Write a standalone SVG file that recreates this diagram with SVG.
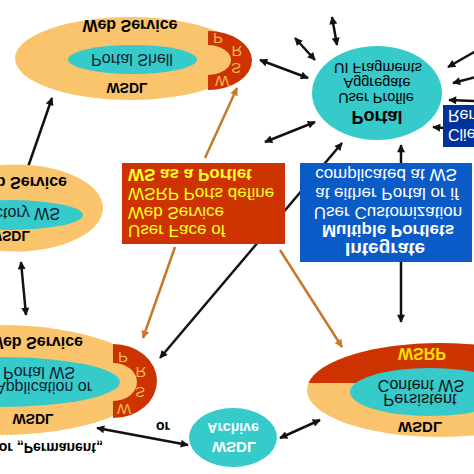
<svg xmlns="http://www.w3.org/2000/svg" width="474" height="474" viewBox="0 0 474 474">
<style>
.t{font-family:"Liberation Sans",Arial,sans-serif;dominant-baseline:central}
.b{font-weight:bold}
.mid{text-anchor:middle}
.end{text-anchor:end}
.org{fill:#FAC46C}
.teal{fill:#36CACA}
.red{fill:#CC3300}
.ln{stroke:#111;stroke-width:2.5;fill:none;marker-end:url(#ah)}
.dl{marker-start:url(#ah)}
.oln{stroke:#C8782A;stroke-width:2.5;fill:none;marker-end:url(#oah)}
.let{fill:#F5B84E;font-size:15px}
</style>
<defs>
<marker id="ah" viewBox="0 0 10 10" refX="9" refY="5" markerWidth="10" markerHeight="8" markerUnits="userSpaceOnUse" orient="auto-start-reverse"><path d="M0,0 L10,5 L0,10 z" fill="#111"/></marker>
<marker id="oah" viewBox="0 0 10 10" refX="9" refY="5" markerWidth="10" markerHeight="8" markerUnits="userSpaceOnUse" orient="auto-start-reverse"><path d="M0,0 L10,5 L0,10 z" fill="#C8782A"/></marker>
</defs>
<rect width="474" height="474" fill="#fff"/>
<g id="connectors">
<line class="ln" x1="28" y1="167" x2="52" y2="98"/>
<line class="ln dl" x1="21" y1="262" x2="26" y2="315"/>
<line class="ln dl" x1="160" y1="358" x2="342" y2="143"/>
<line class="ln dl" x1="332" y1="17" x2="337" y2="45"/>
<line class="ln dl" x1="295" y1="38" x2="315" y2="60"/>
<line class="ln dl" x1="260" y1="60" x2="308" y2="78"/>
<line class="ln dl" x1="265" y1="142" x2="315" y2="122"/>
<line class="ln dl" x1="401" y1="145" x2="401" y2="322"/>
<line class="ln" x1="476" y1="51" x2="448" y2="67"/>
<line class="ln" x1="476" y1="77" x2="453" y2="83"/>
<line class="ln" x1="476" y1="101" x2="449" y2="100"/>
<line class="ln" x1="444" y1="128" x2="433" y2="127"/>
<line class="ln dl" x1="97" y1="428" x2="188" y2="445"/>
<line class="ln dl" x1="280" y1="438" x2="320" y2="420"/>
<line class="oln" x1="205" y1="158" x2="237" y2="88"/>
<line class="oln" x1="175" y1="247" x2="143" y2="338"/>
<line class="oln" x1="280" y1="250" x2="342" y2="347"/>
</g>
<g id="portal-shell-ws">
<ellipse class="org" cx="130" cy="58.5" rx="115" ry="41.5"/>
<ellipse class="teal" cx="132.5" cy="59.5" rx="64.5" ry="14.5"/>
<path class="red" d="M208,31 A44,29.5 0 0 1 208,90 L208,75 A23,15 0 0 0 208,45 Z"/>
<text class="t let mid" x="218" y="38" transform="matrix(1 0 0 -1 0 76)">P</text>
<text class="t let mid" x="237" y="51" transform="matrix(1 0 0 -1 0 102)">R</text>
<text class="t let mid" x="236" y="68" transform="matrix(1 0 0 -1 0 136)">S</text>
<text class="t let mid" x="222" y="81" transform="matrix(1 0 0 -1 0 162)">W</text>
<text class="t b mid" x="130" y="25" font-size="16" transform="matrix(1 0 0 -1 0 50)">Web Service</text>
<text class="t mid" x="132" y="59" font-size="16" fill="#123" transform="matrix(1 0 0 -1 0 118)">Portal Shell</text>
<text class="t b mid" x="127" y="88" font-size="14" transform="matrix(1 0 0 -1 0 176)">WSDL</text>
</g>
<g id="directory-ws">
<ellipse class="org" cx="15" cy="208" rx="88" ry="43.5"/>
<ellipse class="teal" cx="10" cy="215" rx="73" ry="15"/>
<text class="t b end" x="67" y="182" font-size="16" transform="matrix(1 0 0 -1 0 364)">Web Service</text>
<text class="t end" x="60" y="213" font-size="16" fill="#123" transform="matrix(1 0 0 -1 0 426)">Directory WS</text>
<text class="t b end" x="30" y="236" font-size="14" transform="matrix(1 0 0 -1 0 472)">WSDL</text>
</g>
<g id="application-portal-ws">
<ellipse class="org" cx="0" cy="380" rx="150" ry="55"/>
<ellipse class="teal" cx="0" cy="382" rx="120" ry="25"/>
<path class="red" d="M113,344 A44,37 0 0 1 113,418 L113,401 A24,19 0 0 0 113,363 Z"/>
<text class="t let mid" x="123" y="357" transform="matrix(1 0 0 -1 0 714)">P</text>
<text class="t let mid" x="141" y="372" transform="matrix(1 0 0 -1 0 744)">R</text>
<text class="t let mid" x="140" y="392" transform="matrix(1 0 0 -1 0 784)">S</text>
<text class="t let mid" x="124" y="409" transform="matrix(1 0 0 -1 0 818)">W</text>
<text class="t b end" x="83" y="342" font-size="16" transform="matrix(1 0 0 -1 0 684)">Web Service</text>
<text class="t end" x="75" y="372" font-size="16" fill="#123" transform="matrix(1 0 0 -1 0 744)">Portal WS</text>
<text class="t end" x="92" y="387" font-size="16" fill="#123" transform="matrix(1 0 0 -1 0 774)">Application or</text>
<text class="t b mid" x="33" y="419" font-size="14" transform="matrix(1 0 0 -1 0 838)">WSDL</text>
</g>
<g id="permanent-label">
<text class="t b end" x="103" y="448" font-size="14" transform="matrix(1 0 0 -1 0 896)">or „Permanent„</text>
</g>
<g id="portal">
<ellipse class="teal" cx="377" cy="93" rx="65" ry="47"/>
<text class="t mid" x="378" y="68" font-size="14.5" transform="matrix(1 0 0 -1 0 136)">UI Fragments</text>
<text class="t mid" x="377" y="83" font-size="14.5" transform="matrix(1 0 0 -1 0 166)">Aggregate</text>
<text class="t mid" x="376" y="98" font-size="14.5" transform="matrix(1 0 0 -1 0 196)">User Profile</text>
<text class="t b mid" x="377" y="117" font-size="18" transform="matrix(1 0 0 -1 0 234)">Portal</text>
</g>
<g id="client-rendering">
<rect x="443" y="105" width="40" height="42" fill="#003399"/>
<text class="t" x="448" y="115" font-size="16" fill="#fff" transform="matrix(1 0 0 -1 0 230)">Ren</text>
<text class="t" x="448" y="134" font-size="16" fill="#fff" transform="matrix(1 0 0 -1 0 268)">Clie</text>
</g>
<g id="ws-as-portlet">
<rect class="red" x="122" y="163" width="163" height="81"/>
<g fill="#FFFF22" font-size="17">
<text class="t b" x="128" y="174" transform="matrix(1 0 0 -1 0 348)">WS as a Portlet</text>
<text class="t" x="128" y="193" transform="matrix(1 0 0 -1 0 386)">WSRP Ports define</text>
<text class="t" x="128" y="212" transform="matrix(1 0 0 -1 0 424)">Web Service</text>
<text class="t" x="128" y="230" transform="matrix(1 0 0 -1 0 460)">User Face of</text>
</g>
</g>
<g id="integrate">
<rect x="300" y="163" width="172" height="99" fill="#0A5AC8"/>
<g fill="#fff" font-size="17">
<text class="t mid" x="386" y="174" transform="matrix(1 0 0 -1 0 348)">complicated at WS</text>
<text class="t mid" x="387" y="193" transform="matrix(1 0 0 -1 0 386)">at either Portal or if</text>
<text class="t mid" x="388" y="212" transform="matrix(1 0 0 -1 0 424)">User Customization</text>
<text class="t b mid" x="388" y="230" transform="matrix(1 0 0 -1 0 460)">Multiple Portlets</text>
<text class="t b mid" x="385" y="249" font-size="19" transform="matrix(1 0 0 -1 0 498)">Integrate</text>
</g>
</g>
<g id="archive-wsdl">
<ellipse class="teal" cx="233" cy="437.5" rx="44" ry="29.5"/>
<text class="t b mid" x="233" y="428" font-size="14" fill="#fff" transform="matrix(1 0 0 -1 0 856)">Archive</text>
<text class="t b mid" x="234" y="447" font-size="15" fill="#fff" transform="matrix(1 0 0 -1 0 894)">WSDL</text>
</g>
<g id="persistent-content-ws">
<ellipse class="org" cx="440" cy="390" rx="133" ry="47"/>
<path class="red" d="M308.5,383 A133,47 0 0 1 571.5,383 Z"/>
<ellipse class="teal" cx="430" cy="392" rx="80" ry="24"/>
<text class="t b mid" x="422" y="353" font-size="16" fill="#FFE000" transform="matrix(1 0 0 -1 0 706)">WSRP</text>
<text class="t mid" x="421" y="385" font-size="16" fill="#111" transform="matrix(1 0 0 -1 0 770)">Content WS</text>
<text class="t mid" x="420" y="400" font-size="16.5" fill="#111" transform="matrix(1 0 0 -1 0 800)">Persistent</text>
<text class="t b mid" x="420" y="427" font-size="15" transform="matrix(1 0 0 -1 0 854)">WSDL</text>
</g>
<g id="or-label">
<text class="t b mid" x="163" y="427" font-size="14" transform="matrix(1 0 0 -1 0 854)">or</text>
</g>
</svg>
